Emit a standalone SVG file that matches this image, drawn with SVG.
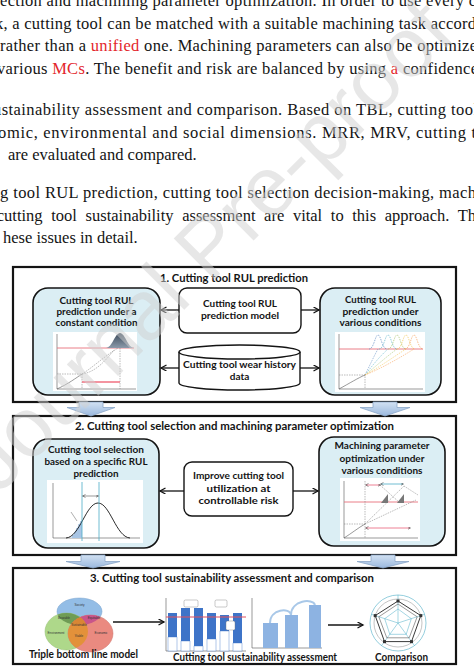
<svg xmlns="http://www.w3.org/2000/svg" width="474" height="672" viewBox="0 0 474 672">
<defs>
<style>
.p{font-family:"Liberation Serif","Times New Roman",serif;font-size:16.5px;fill:#141414}
.r{fill:#e3262b}
.f{font-family:Lato,"Liberation Sans",sans-serif;font-weight:bold;fill:#141414;text-anchor:middle}
.t{font-size:11.5px}
.b{font-size:10px}
.frame{fill:#fff;stroke:#141414;stroke-width:2.2}
.blue{fill:#dbeef4;stroke:#141414;stroke-width:1.6}
.wbox{fill:#fff;stroke:#141414;stroke-width:1.4}
.con{stroke:#141414;stroke-width:1.3;fill:none;marker-end:url(#ah)}
.barrow{fill:url(#bg);stroke:#8aa6c8;stroke-width:0.8}
.ax{stroke:#555;stroke-width:0.6;fill:none}
.dash{stroke:#777;stroke-width:0.5;stroke-dasharray:1.5 1;fill:none}
.tiny{font-family:"Liberation Sans",sans-serif;font-size:3px;fill:#333;text-anchor:middle}
</style>
<marker id="ah" markerWidth="8" markerHeight="8" refX="6" refY="3" orient="auto" markerUnits="userSpaceOnUse"><path d="M0.5,0 L6,3 L0.5,6" fill="none" stroke="#141414" stroke-width="1.3"/></marker>
<marker id="sa" markerWidth="4" markerHeight="4" refX="2.5" refY="1.5" orient="auto-start-reverse" markerUnits="userSpaceOnUse"><path d="M0,0 L3,1.5 L0,3" fill="none" stroke="#333" stroke-width="0.5"/></marker>
<linearGradient id="bg" x1="0" y1="0" x2="0" y2="1"><stop offset="0" stop-color="#d2e1f2"/><stop offset="1" stop-color="#9ab8de"/></linearGradient>
<linearGradient id="gg" x1="0" y1="0" x2="0" y2="1"><stop offset="0" stop-color="#3c4a5a"/><stop offset="1" stop-color="#8b9aaa"/></linearGradient>
<clipPath id="cb"><ellipse cx="79.5" cy="611.5" rx="22.5" ry="13.5"/></clipPath>
<clipPath id="cg"><ellipse cx="66.5" cy="631.5" rx="21.5" ry="18.5"/></clipPath>
</defs>
<rect width="474" height="672" fill="#fff"/>

<g id="page-text">
<text class="p" x="0" y="6" textLength="476" lengthAdjust="spacing">ection and machining parameter optimization. In order to use every c</text>
<text class="p" x="-5" y="28.5" textLength="481" lengthAdjust="spacing">k, a cutting tool can be matched with a suitable machining task accord</text>
<text class="p" x="0" y="51" textLength="477" lengthAdjust="spacing">rather than a <tspan class="r">unified</tspan> one. Machining parameters can also be optimize</text>
<text class="p" x="-3" y="73.5" textLength="481" lengthAdjust="spacing">various <tspan class="r">MCs</tspan>. The benefit and risk are balanced by using <tspan class="r">a</tspan> confidence</text>
<text class="p" x="-7" y="115" textLength="485" lengthAdjust="spacing">ustainability assessment and comparison. Based on TBL, cutting tool</text>
<text class="p" x="-2" y="138" textLength="478" lengthAdjust="spacing">omic, environmental and social dimensions. MRR, MRV, cutting t</text>
<text class="p" x="8" y="160">are evaluated and compared.</text>
<text class="p" x="0" y="198" textLength="476" lengthAdjust="spacing">g tool RUL prediction, cutting tool selection decision-making, mach</text>
<text class="p" x="476" y="221" text-anchor="end" word-spacing="4.5">cutting tool sustainability assessment are vital to this approach. Th</text>
<text class="p" x="3" y="243">hese issues in detail.</text>
</g>

<g id="stage1">
<rect class="frame" x="13" y="267" width="443" height="135"/>
<text class="f t" x="234" y="282" textLength="148" lengthAdjust="spacingAndGlyphs">1. Cutting tool RUL prediction</text>
</g>
<g id="stage2">
<rect class="frame" x="13" y="416" width="443" height="139"/>
<text class="f t" x="234.5" y="430" textLength="319" lengthAdjust="spacingAndGlyphs">2. Cutting tool selection and machining parameter optimization</text>
</g>
<g id="stage3">
<rect class="frame" x="13" y="568" width="443" height="96"/>
<text class="f t" x="232" y="582" textLength="284" lengthAdjust="spacingAndGlyphs">3. Cutting tool sustainability assessment and comparison</text>
</g>

<g id="flow-arrows">
<polygon class="barrow" points="79,402 103,402 103,407.5 115,407.5 91,416 67,407.5 79,407.5"/>
<polygon class="barrow" points="373,402 397,402 397,407.5 410,407.5 385,416 360,407.5 373,407.5"/>
<polygon class="barrow" points="81,555 105,555 105,561.5 120,561.5 93,568 66,561.5 81,561.5"/>
<polygon class="barrow" points="371,555 395,555 395,561.5 409,561.5 383,568 357,561.5 371,561.5"/>
</g>

<g id="rul-constant">
<rect class="blue" x="33" y="288" width="127" height="107" rx="15"/>
<text class="f b" x="96.5" y="304" textLength="74" lengthAdjust="spacingAndGlyphs">Cutting tool RUL</text>
<text class="f b" x="96.5" y="315" textLength="80" lengthAdjust="spacingAndGlyphs">prediction under a</text>
<text class="f b" x="96.5" y="326" textLength="82" lengthAdjust="spacingAndGlyphs">constant condition</text>
<rect x="53" y="332" width="84" height="59" fill="#fff"/>
<path class="ax" d="M57,334 V389 H136"/>
<line x1="57" y1="348" x2="134" y2="348" stroke="#e8707a" stroke-width="0.9"/>
<path d="M106,348 C112,348 115,333 120,333 C125,333 128,348 134,348 Z" fill="url(#gg)"/>
<path d="M57,389 C68,384 76,378 82,374" stroke="#555" stroke-width="0.6" fill="none"/>
<path class="dash" d="M82,374 C92,368 102,358 118,348"/>
<path class="dash" d="M82,374 C96,372 106,360 114,350"/>
<path class="dash" d="M57,374 H82 V389 M120,348 V389"/>
<line x1="82" y1="382" x2="120" y2="382" stroke="#f07080" stroke-width="1.6"/>
</g>

<g id="rul-model">
<rect class="wbox" x="179" y="288" width="122" height="45" rx="8"/>
<text class="f b" x="240" y="307" textLength="74" lengthAdjust="spacingAndGlyphs">Cutting tool RUL</text>
<text class="f b" x="240" y="319" textLength="78" lengthAdjust="spacingAndGlyphs">prediction model</text>
</g>

<g id="wear-history">
<path class="wbox" d="M179,352 A60.5,7 0 0 1 300,352 L300,383 A60.5,7 0 0 1 179,383 Z"/>
<path d="M179,352 A60.5,7 0 0 0 300,352" fill="none" stroke="#141414" stroke-width="1.4"/>
<text class="f b" x="239.5" y="368" textLength="113" lengthAdjust="spacingAndGlyphs">Cutting tool wear history</text>
<text class="f b" x="239.5" y="380">data</text>
</g>

<g id="rul-various">
<rect class="blue" x="320" y="288" width="121" height="107" rx="15"/>
<text class="f b" x="380.5" y="303" textLength="71" lengthAdjust="spacingAndGlyphs">Cutting tool RUL</text>
<text class="f b" x="380.5" y="315" textLength="76" lengthAdjust="spacingAndGlyphs">prediction under</text>
<text class="f b" x="380.5" y="326" textLength="82" lengthAdjust="spacingAndGlyphs">various conditions</text>
<rect x="335" y="332" width="90" height="60" fill="#fff"/>
<path class="ax" d="M339,334 V389 H423"/>
<line x1="339" y1="349" x2="423" y2="349" stroke="#e8707a" stroke-width="0.9"/>
<g fill="none" stroke-width="0.6" stroke-dasharray="1.5 1">
<path d="M369,349 C374,349 375,335 378,335 C381,335 382,349 387,349" stroke="#4f81bd"/>
<path d="M379,349 C384,349 385,335 388,335 C391,335 392,349 397,349" stroke="#4bacc6"/>
<path d="M388,349 C393,349 394,335 397,335 C400,335 401,349 406,349" stroke="#9bbb59"/>
<path d="M397,349 C402,349 403,335 406,335 C409,335 410,349 415,349" stroke="#f0c040"/>
<path d="M405,349 C410,349 411,335 414,335 C417,335 418,349 423,349" stroke="#f79646"/>
</g>
<path d="M339,389 C350,383 358,378 365,375" stroke="#555" stroke-width="0.6" fill="none"/>
<g fill="none" stroke-width="0.5" stroke-dasharray="1.5 1">
<path d="M365,375 C370,365 374,356 378,349" stroke="#4f81bd"/>
<path d="M365,375 C372,366 380,356 388,349" stroke="#4bacc6"/>
<path d="M365,375 C375,367 386,357 397,349" stroke="#9bbb59"/>
<path d="M365,375 C378,368 392,358 406,349" stroke="#f0c040"/>
<path d="M365,375 C380,369 398,359 414,349" stroke="#f79646"/>
</g>
<path class="dash" d="M339,375 H365 V389"/>
</g>

<g id="select-tool">
<rect class="blue" x="33" y="439" width="126" height="109" rx="15"/>
<text class="f b" x="96" y="453" textLength="96" lengthAdjust="spacingAndGlyphs">Cutting tool selection</text>
<text class="f b" x="96" y="465" textLength="103" lengthAdjust="spacingAndGlyphs">based on a specific RUL</text>
<text class="f b" x="96" y="477" textLength="45" lengthAdjust="spacingAndGlyphs">prediction</text>
<rect x="47" y="480" width="96" height="63" fill="#fff"/>
<path class="ax" d="M53,483 V538 H140"/>
<polygon points="70,538 72,536 75,531 78,526 82,519 82,538" fill="#cfe3f5"/>
<g stroke="#4f81bd" stroke-width="0.6"><line x1="73" y1="535" x2="73" y2="538"/><line x1="75" y1="532" x2="75" y2="538"/><line x1="77" y1="528" x2="77" y2="538"/><line x1="79" y1="524" x2="79" y2="538"/><line x1="81" y1="521" x2="81" y2="538"/></g>
<path d="M66,538 C80,537 86,503 98,503 C110,503 116,537 130,538" fill="none" stroke="#141414" stroke-width="0.9"/>
<g stroke="#4bacc6" stroke-width="0.8"><line x1="82" y1="482" x2="82" y2="541"/><line x1="99" y1="482" x2="99" y2="541"/></g>
<line x1="83" y1="496" x2="98" y2="496" stroke="#333" stroke-width="0.5" marker-start="url(#sa)" marker-end="url(#sa)"/>
<line x1="71" y1="512" x2="77" y2="521" stroke="#333" stroke-width="0.4"/>
</g>

<g id="improve-utilization">
<rect class="wbox" x="184" y="462" width="109" height="54" rx="8"/>
<text class="f b" x="238.5" y="479" textLength="91" lengthAdjust="spacingAndGlyphs">Improve cutting tool</text>
<text class="f b" x="238.5" y="492" textLength="64" lengthAdjust="spacingAndGlyphs">utilization at</text>
<text class="f b" x="238.5" y="504" textLength="80" lengthAdjust="spacingAndGlyphs">controllable risk</text>
</g>

<g id="machining-optimization">
<rect class="blue" x="319" y="437" width="126" height="109" rx="15"/>
<text class="f b" x="382" y="449" textLength="95" lengthAdjust="spacingAndGlyphs">Machining parameter</text>
<text class="f b" x="382" y="462" textLength="85" lengthAdjust="spacingAndGlyphs">optimization under</text>
<text class="f b" x="382" y="474" textLength="81" lengthAdjust="spacingAndGlyphs">various conditions</text>
<rect x="340" y="478" width="80" height="63" fill="#fff"/>
<path class="ax" d="M344,481 V538 H418"/>
<line x1="344" y1="502" x2="418" y2="502" stroke="#e8707a" stroke-width="0.9"/>
<path class="dash" d="M365,481 V538 M344,524 H365 M365,524 L404,486 M365,524 L416,500 M380,485 L400,503 M404,486 L418,495"/>
<path d="M344,538 C352,533 358,528 365,524" stroke="#555" stroke-width="0.6" fill="none"/>
<polygon points="381,503 388,503 388,494" fill="#777"/>
<polygon points="397,503 404,503 404,494" fill="#777"/>
<line x1="366" y1="485" x2="380" y2="485" stroke="#e8607a" stroke-width="0.8" marker-start="url(#sa)" marker-end="url(#sa)"/>
<line x1="381" y1="484" x2="403" y2="484" stroke="#4bacc6" stroke-width="0.8" marker-start="url(#sa)" marker-end="url(#sa)"/>
<line x1="366" y1="528" x2="410" y2="528" stroke="#e8607a" stroke-width="0.8" marker-start="url(#sa)" marker-end="url(#sa)"/>
</g>

<g id="tbl-model">
<ellipse cx="79.5" cy="611.5" rx="22.5" ry="13.5" fill="#93bde6" stroke="#7aa3cc" stroke-width="0.5"/>
<ellipse cx="66.5" cy="631.5" rx="21.5" ry="18.5" fill="#aed88a" stroke="#8fba6a" stroke-width="0.5"/>
<ellipse cx="90.5" cy="633.5" rx="22.5" ry="18.5" fill="#ea8a80" stroke="#cc6e66" stroke-width="0.5"/>
<ellipse cx="66.5" cy="631.5" rx="21.5" ry="18.5" fill="#6f9c55" clip-path="url(#cb)"/>
<ellipse cx="90.5" cy="633.5" rx="22.5" ry="18.5" fill="#c8558a" clip-path="url(#cb)"/>
<ellipse cx="90.5" cy="633.5" rx="22.5" ry="18.5" fill="#e3913a" clip-path="url(#cg)"/>
<g clip-path="url(#cb)"><ellipse cx="90.5" cy="633.5" rx="22.5" ry="18.5" fill="#d98634" clip-path="url(#cg)"/></g>
<text class="tiny" x="79.5" y="606">Society</text>
<text class="tiny" x="64" y="619">Bearable</text>
<text class="tiny" x="94" y="619">Equitable</text>
<text class="tiny" x="79" y="626">Sustainable</text>
<text class="tiny" x="56" y="634">Environment</text>
<text class="tiny" x="101" y="634">Economic</text>
<text class="tiny" x="79" y="637">Viable</text>
<text class="f" x="83.5" y="658" font-size="10.5" textLength="109" lengthAdjust="spacingAndGlyphs">Triple bottom line model</text>
</g>

<g id="sustainability-assessment">
<path class="ax" d="M166,598 V651 H246" stroke="#bbb"/>
<g fill="#3e74c8">
<rect x="168" y="613" width="9" height="24"/>
<rect x="181" y="608" width="9" height="33"/>
<rect x="194" y="608" width="9" height="38"/>
<rect x="207" y="613" width="9" height="26"/>
<rect x="220" y="615" width="9" height="16"/>
<rect x="233" y="613" width="9" height="30"/>
</g>
<g fill="#fff" stroke="#3e74c8" stroke-width="0.4">
<rect x="168" y="637" width="9" height="14"/>
<rect x="181" y="641" width="9" height="10"/>
<rect x="194" y="646" width="9" height="5"/>
<rect x="207" y="639" width="9" height="12"/>
<rect x="220" y="631" width="9" height="20"/>
<rect x="233" y="643" width="9" height="8"/>
</g>
<line x1="166" y1="617" x2="246" y2="617" stroke="#e05060" stroke-width="1.2"/>
<g fill="#fff" stroke="#777" stroke-width="0.4">
<rect x="184" y="600" width="14" height="7" rx="1.5"/>
<rect x="215" y="600" width="12" height="7" rx="1.5"/>
<rect x="226" y="621" width="9" height="9" rx="1.5"/>
</g>
<path class="ax" d="M252,598 V648 H322" stroke="#bbb"/>
<g fill="#8db3e2"><rect x="263" y="623" width="15" height="25"/><rect x="285" y="615" width="13" height="33"/><rect x="309" y="605" width="12" height="43"/></g>
<path d="M270,623 C270,609 290,607 291,615 M291,615 C291,600 313,598 315,605" fill="none" stroke="#a9c8e8" stroke-width="2"/>
<text class="f" x="255" y="661" font-size="10.5" textLength="164" lengthAdjust="spacingAndGlyphs">Cutting tool sustainability assessment</text>
</g>

<g id="comparison">
<circle cx="398" cy="623" r="28" fill="#fff" stroke="#4bacc6" stroke-width="0.6"/>
<circle cx="398" cy="623" r="24" fill="none" stroke="#888" stroke-width="0.5"/>
<g stroke="#4bacc6" stroke-width="0.5" fill="none">
<path d="M398,623 L398,595 M398,623 L424.6,614.3 M398,623 L414.5,645.7 M398,623 L381.5,645.7 M398,623 L371.4,614.3"/>
<polygon points="398,609 411.3,618.7 406.2,634.3 389.8,634.3 384.7,618.7"/>
</g>
<polygon points="398,601 420.8,615.6 411.5,641.6 384.5,641.6 375.2,615.6" fill="none" stroke="#222" stroke-width="0.9"/>
<polygon points="398,604 417.2,616.8 409.2,637.8 386.8,637.8 378.8,616.8" fill="none" stroke="#555" stroke-width="0.6"/>
<g fill="#333"><rect x="396.5" y="599.5" width="3" height="3"/><rect x="419.3" y="614.1" width="3" height="3"/><rect x="410" y="640.1" width="3" height="3"/><rect x="383" y="640.1" width="3" height="3"/><rect x="373.7" y="614.1" width="3" height="3"/></g>
<text class="f" x="401.5" y="661" font-size="10.5" textLength="53" lengthAdjust="spacingAndGlyphs">Comparison</text>
</g>

<g id="connectors">
<line class="con" x1="179" y1="310" x2="161" y2="310"/>
<line class="con" x1="301" y1="310" x2="319" y2="310"/>
<line class="con" x1="179" y1="368" x2="161" y2="368"/>
<line class="con" x1="300" y1="368" x2="319" y2="368"/>
<line class="con" x1="184" y1="491" x2="160" y2="491"/>
<line class="con" x1="293" y1="491" x2="318" y2="491"/>
<line class="con" x1="113" y1="622" x2="164" y2="622"/>
<line class="con" x1="328" y1="625" x2="363" y2="625"/>
</g>

<text x="228" y="266" font-family="Liberation Sans,sans-serif" font-size="84" fill="#cfcfcf" fill-opacity="0.5" text-anchor="middle" transform="rotate(-45 228 266)">Journal Pre-proof</text>
</svg>
